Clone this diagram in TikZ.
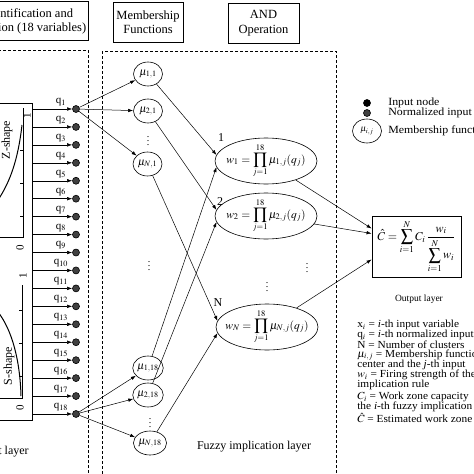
\documentclass[tikz,border=0pt]{standalone}
\usepackage{mathptmx}
\usepackage[no-math]{fontspec}
\setmainfont{Liberation Serif}
\usetikzlibrary{arrows.meta,shapes.geometric,calc}
\begin{document}
\begin{tikzpicture}[x=1pt,y=-1pt,
  line width=0.6pt,
  arr/.style={-{Latex[length=5pt,width=3.5pt]}, line width=0.5pt},
  hdr/.style={draw, line width=0.8pt, align=center, font=\fontsize{12.5}{14}\selectfont, inner sep=0pt},
  dbox/.style={dash pattern=on 3pt off 2pt, line width=0.7pt},
  qn/.style={circle, fill=black!75, draw=black, minimum size=7pt, inner sep=0pt},
  inn/.style={circle, fill=black, draw=black, minimum size=7pt, inner sep=0pt},
  mf/.style={ellipse, draw, minimum width=29pt, minimum height=24pt, inner sep=0pt, font=\fontsize{11}{12}\selectfont},
  fw/.style={ellipse, draw, minimum width=102pt, minimum height=46pt, inner sep=0pt},
  txt/.style={inner sep=0pt, font=\fontsize{12}{14}\selectfont},
  small/.style={inner sep=0pt, font=\fontsize{11}{12}\selectfont},
  leg/.style={inner sep=0pt, anchor=west, xscale=1.08, font=\fontsize{11}{12}\selectfont},
  defs/.style={inner sep=0pt, anchor=west, xscale=1.05, font=\fontsize{10.8}{12}\selectfont},
  vdots/.style={inner sep=0pt, font=\fontsize{10}{12}\selectfont}
]
\useasboundingbox (0,0) rectangle (474,474);
\clip (0,0) rectangle (474,474);

% header boxes
\node[hdr, minimum width=148pt, minimum height=39pt] (h1) at (14,21) {Input Identification and\\Normalization (18 variables)};
\node[hdr, minimum width=70pt, minimum height=40pt] (h2) at (148,22) {Membership\\Functions};
\node[hdr, minimum width=71pt, minimum height=40pt] (h3) at (263.5,23) {AND\\[1.5pt]Operation};

% dashed layer boxes
\draw[dbox] (-10,50) rectangle (88,490);
\draw[dbox] (102,51) rectangle (336,490);

% input layer box and plots
\draw (-10,103) rectangle (32,420);
\draw (23,108) -- (23,237) -- (-10,237);
\draw (22,285) -- (22,398) -- (-10,398);
\foreach \t in {150,183,216} \draw (23,\t) -- (20,\t);
\foreach \t in {310,343,376} \draw (22,\t) -- (19,\t);
\draw[line width=1pt] (22,125) .. controls (18,160) and (10,182) .. (-2,200);
\draw[line width=1pt] (-2,312) .. controls (12,330) and (20,360) .. (21,396);
\node[txt, rotate=90] (zs) at (7,140) {Z-shape};
\node[txt, rotate=90] (ss) at (9,366) {S-shape};
\node[small, rotate=90] (z1) at (27,116) {1};
\node[small, rotate=90] (z0) at (20,248) {0};
\node[small, rotate=90] (s1) at (23,276) {1};
\node[small, rotate=90] (s0) at (20,408) {0};

% normalized input nodes
\foreach \i in {1,...,18} {
  \pgfmathsetmacro\yy{109+(\i-1)*17.94}
  \coordinate (s\i) at (32,\yy);
  \node[qn] (q\i) at (76,\yy) {};
  \draw[arr] (s\i) -- (q\i);
  \node[small] (ql\i) at (61,\yy-7) {q$_{\i}$};
}

% membership function nodes
\node[mf] (m11) at (148,74) {$\mu_{1,1}$};
\node[mf] (m21) at (148,111) {$\mu_{2,1}$};
\node[mf] (mN1) at (147.5,164) {$\mu_{N,1}$};
\node[mf] (m118) at (148,368) {$\mu_{1,18}$};
\node[mf] (m218) at (148,395) {$\mu_{2,18}$};
\node[mf] (mN18) at (150,443) {$\mu_{N,18}$};
\node[vdots] (d1) at (148,138) {$\vdots$};
\node[vdots] (d2) at (149,263) {$\vdots$};
\node[vdots] (d3) at (150,420) {$\vdots$};

\draw[arr] (q1) -- (m11);
\draw[arr] (q1) -- (m21);
\draw[arr] (q1) -- (mN1);
\draw[arr] (q18) -- (m118);
\draw[arr] (q18) -- (m218);
\draw[arr] (q18) -- (mN18);

% firing strength ellipses
\node[fw] (w1) at (266,161) {};
\node[fw] (w2) at (266,216) {};
\node[fw] (wN) at (267,327) {};
\node[inner sep=0pt, font=\fontsize{11.5}{12}\selectfont] (w1t) at (w1) {$\displaystyle w_1=\prod_{j=1}^{18}\mu_{1,j}(q_j)$};
\node[inner sep=0pt, font=\fontsize{11.5}{12}\selectfont] (w2t) at (w2) {$\displaystyle w_2=\prod_{j=1}^{18}\mu_{2,j}(q_j)$};
\node[inner sep=0pt, font=\fontsize{11.5}{12}\selectfont] (wNt) at (wN) {$\displaystyle w_N=\prod_{j=1}^{18}\mu_{N,j}(q_j)$};
\node[txt] (l1) at (221,138) {1};
\node[txt] (l2) at (220,202) {2};
\node[txt] (lN) at (218,303) {N};
\node[vdots] (d4) at (307,265) {$\vdots$};
\node[vdots] (d5) at (267,284) {$\vdots$};

\draw[arr] (m11) -- (w1.173);
\draw[arr] (m118) -- (w1.187);
\draw[arr] (m21) -- (w2.173);
\draw[arr] (m218) -- (w2.187);
\draw[arr] (mN1) -- (wN.173);
\draw[arr] (mN18) -- (wN.187);

% output
\node[draw, line width=0.8pt, minimum width=89pt, minimum height=61pt, inner sep=0pt, font=\fontsize{12}{13}\selectfont] (out) at (416.5,246.5)
  {$\displaystyle \hat{C}=\sum_{i=1}^{N} C_i\,\frac{w_i}{\displaystyle\sum_{i=1}^{N} w_i}$};
\coordinate (o1) at ($(out.west)+(0,-18)$);
\coordinate (o2) at ($(out.west)+(0,-13)$);
\coordinate (o3) at ($(out.west)+(0,13)$);
\draw[arr] (w1) -- (o1);
\draw[arr] (w2) -- (o2);
\draw[arr] (wN) -- (o3);
\node[inner sep=0pt, font=\fontsize{9.5}{12}\selectfont] (ol) at (419,299) {Output layer};

% layer labels
\node[txt] (fil) at (254,447) {Fuzzy implication layer};
\node[txt, anchor=east] (il) at (29,452) {Input layer};

% legend
\node[inn] (lg1) at (367,103) {};
\node[qn] (lg2) at (367,113) {};
\node[mf, font=\fontsize{9}{10}\selectfont] (lg3) at (367,131) {$\mu_{i,j}$};
\node[leg] (lt1) at (388,103) {Input node};
\node[leg] (lt2) at (388,113) {Normalized input};
\node[leg] (lt3) at (388,131) {Membership function};

% definitions
\node[defs] (t1) at (357,325) {x$_i$ = \textit{i}-th input variable};
\node[defs] (t2) at (357,335) {q$_i$ = \textit{i}-th normalized input};
\node[defs] (t3) at (357,345) {N = Number of clusters};
\node[defs] (t4) at (357,355) {$\mu_{i,j}$ = Membership function};
\node[defs] (t5) at (357,365) {center and the \textit{j}-th input};
\node[defs] (t6) at (357,375) {$w_i$ = Firing strength of the};
\node[defs] (t7) at (357,385) {implication rule};
\node[defs] (t8) at (357,397) {$C_i$ = Work zone capacity};
\node[defs] (t9) at (357,407) {the \textit{i}-th fuzzy implication};
\node[defs] (t10) at (357,418) {$\hat{C}$ = Estimated work zone};
\end{tikzpicture}
\end{document}
